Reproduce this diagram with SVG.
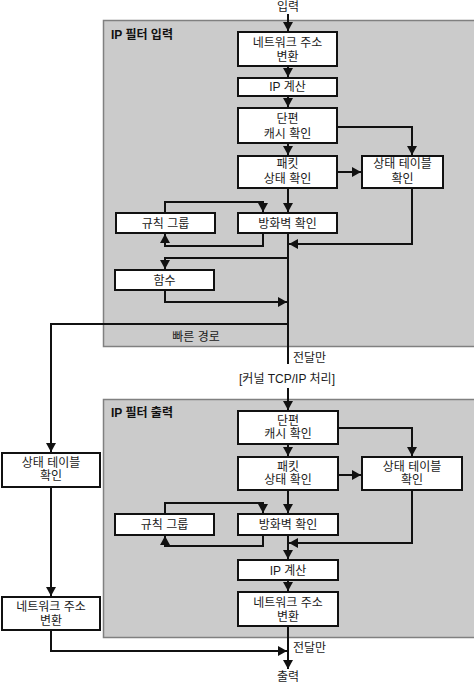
<svg xmlns="http://www.w3.org/2000/svg" width="474" height="685" viewBox="0 0 474 685">
<style>
.panel{fill:#cbcbcb;stroke:#808080;stroke-width:1.5}
.box{fill:#fff;stroke:#111;stroke-width:2}
.t{font-family:"Liberation Sans","Noto Sans CJK KR",sans-serif;font-size:12px;fill:#1a1a1a;text-anchor:middle}
.ti{font-family:"Liberation Sans","Noto Sans CJK KR",sans-serif;font-size:12px;font-weight:bold;fill:#111}
.lbl{font-family:"Liberation Sans","Noto Sans CJK KR",sans-serif;font-size:12px;fill:#1a1a1a}
.c{fill:none;stroke:#111;stroke-width:2}
</style>
<defs>
<marker id="ah" markerUnits="userSpaceOnUse" markerWidth="9" markerHeight="10" refX="9" refY="5" orient="auto">
<path d="M0,0 L9,5 L0,10 z" fill="#111"/>
</marker>
</defs>
<rect class="panel" x="103.5" y="20.5" width="372" height="326"/>
<text class="ti" x="111" y="39">IP 필터 입력</text>
<rect class="panel" x="103.5" y="399.5" width="372" height="238"/>
<text class="ti" x="111" y="417">IP 필터 출력</text>

<g id="connectors">
<path class="c" d="M288,14 V31" marker-end="url(#ah)"/>
<path class="c" d="M288,66 V77" marker-end="url(#ah)"/>
<path class="c" d="M288,96 V107" marker-end="url(#ah)"/>
<path class="c" d="M288,143 V155" marker-end="url(#ah)"/>
<path class="c" d="M337,127 H412 V155" marker-end="url(#ah)"/>
<path class="c" d="M337,172 H361" marker-end="url(#ah)"/>
<path class="c" d="M288,188 V212" marker-end="url(#ah)"/>
<path class="c" d="M165,213 V202 H263 V212" marker-end="url(#ah)"/>
<path class="c" d="M263,233 V246 H165 V234" marker-end="url(#ah)"/>
<path class="c" d="M412,188 V244 H289" marker-end="url(#ah)"/>
<path class="c" d="M288,233 V364"/>
<path class="c" d="M288,258 H165 V269" marker-end="url(#ah)"/>
<path class="c" d="M165,290 V302 H287" marker-end="url(#ah)"/>
<path class="c" d="M288,324 H51 V452" marker-end="url(#ah)"/>
<path class="c" d="M288,388 V410" marker-end="url(#ah)"/>
<path class="c" d="M338,428 H412 V456" marker-end="url(#ah)"/>
<path class="c" d="M288,444 V456" marker-end="url(#ah)"/>
<path class="c" d="M338,475 H361" marker-end="url(#ah)"/>
<path class="c" d="M288,490 V513" marker-end="url(#ah)"/>
<path class="c" d="M165,514 V503 H263 V513" marker-end="url(#ah)"/>
<path class="c" d="M263,535 V546 H165 V536" marker-end="url(#ah)"/>
<path class="c" d="M412,490 V543 H289" marker-end="url(#ah)"/>
<path class="c" d="M288,535 V559" marker-end="url(#ah)"/>
<path class="c" d="M288,580 V591" marker-end="url(#ah)"/>
<path class="c" d="M288,626 V669" marker-end="url(#ah)"/>
<path class="c" d="M51,487 V596" marker-end="url(#ah)"/>
<path class="c" d="M51,630 V651 H287" marker-end="url(#ah)"/>
</g>

<text class="t" x="288" y="11">입력</text>
<text class="t" x="196" y="341">빠른 경로</text>
<text class="lbl" x="293" y="362">전달만</text>
<text class="t" x="287" y="383">[커널 TCP/IP 처리]</text>
<text class="lbl" x="293" y="652">전달만</text>
<text class="t" x="288" y="681">출력</text>

<g id="in-nat"><rect class="box" x="238" y="32" width="99" height="34"/><text class="t" x="287.5" y="47">네트워크 주소</text><text class="t" x="287.5" y="61">변환</text></g>
<g id="in-ipsum"><rect class="box" x="238" y="78" width="99" height="18"/><text class="t" x="287.5" y="91">IP 계산</text></g>
<g id="in-frag"><rect class="box" x="238" y="108" width="99" height="35"/><text class="t" x="287.5" y="122.5">단편</text><text class="t" x="287.5" y="137.5">캐시 확인</text></g>
<g id="in-pkt"><rect class="box" x="238" y="156" width="99" height="32"/><text class="t" x="287.5" y="168">패킷</text><text class="t" x="287.5" y="183">상태 확인</text></g>
<g id="in-state"><rect class="box" x="362" y="156" width="81" height="32"/><text class="t" x="402.5" y="168">상태 테이블</text><text class="t" x="402.5" y="183">확인</text></g>
<g id="in-rules"><rect class="box" x="116" y="213" width="99" height="20"/><text class="t" x="165.5" y="227.5">규칙 그룹</text></g>
<g id="in-fw"><rect class="box" x="238" y="213" width="99" height="20"/><text class="t" x="287.5" y="227.5">방화벽 확인</text></g>
<g id="in-func"><rect class="box" x="115" y="270" width="99" height="20"/><text class="t" x="164.5" y="284.5">함수</text></g>

<g id="out-frag"><rect class="box" x="238" y="411" width="100" height="33"/><text class="t" x="288" y="424.5">단편</text><text class="t" x="288" y="438">캐시 확인</text></g>
<g id="out-pkt"><rect class="box" x="238" y="457" width="100" height="33"/><text class="t" x="288" y="471">패킷</text><text class="t" x="288" y="484">상태 확인</text></g>
<g id="out-state"><rect class="box" x="362" y="457" width="100" height="33"/><text class="t" x="412" y="471">상태 테이블</text><text class="t" x="412" y="484">확인</text></g>
<g id="out-rules"><rect class="box" x="115" y="514" width="99" height="21"/><text class="t" x="164.5" y="529">규칙 그룹</text></g>
<g id="out-fw"><rect class="box" x="238" y="514" width="100" height="21"/><text class="t" x="288" y="529">방화벽 확인</text></g>
<g id="out-ipsum"><rect class="box" x="238" y="560" width="100" height="20"/><text class="t" x="288" y="574.5">IP 계산</text></g>
<g id="out-nat"><rect class="box" x="238" y="592" width="100" height="34"/><text class="t" x="288" y="606.5">네트워크 주소</text><text class="t" x="288" y="621">변환</text></g>

<g id="fast-state"><rect class="box" x="2" y="453" width="98" height="34"/><text class="t" x="51" y="466.5">상태 테이블</text><text class="t" x="51" y="480">확인</text></g>
<g id="fast-nat"><rect class="box" x="2" y="597" width="98" height="33"/><text class="t" x="51" y="611">네트워크 주소</text><text class="t" x="51" y="624.5">변환</text></g>
</svg>
